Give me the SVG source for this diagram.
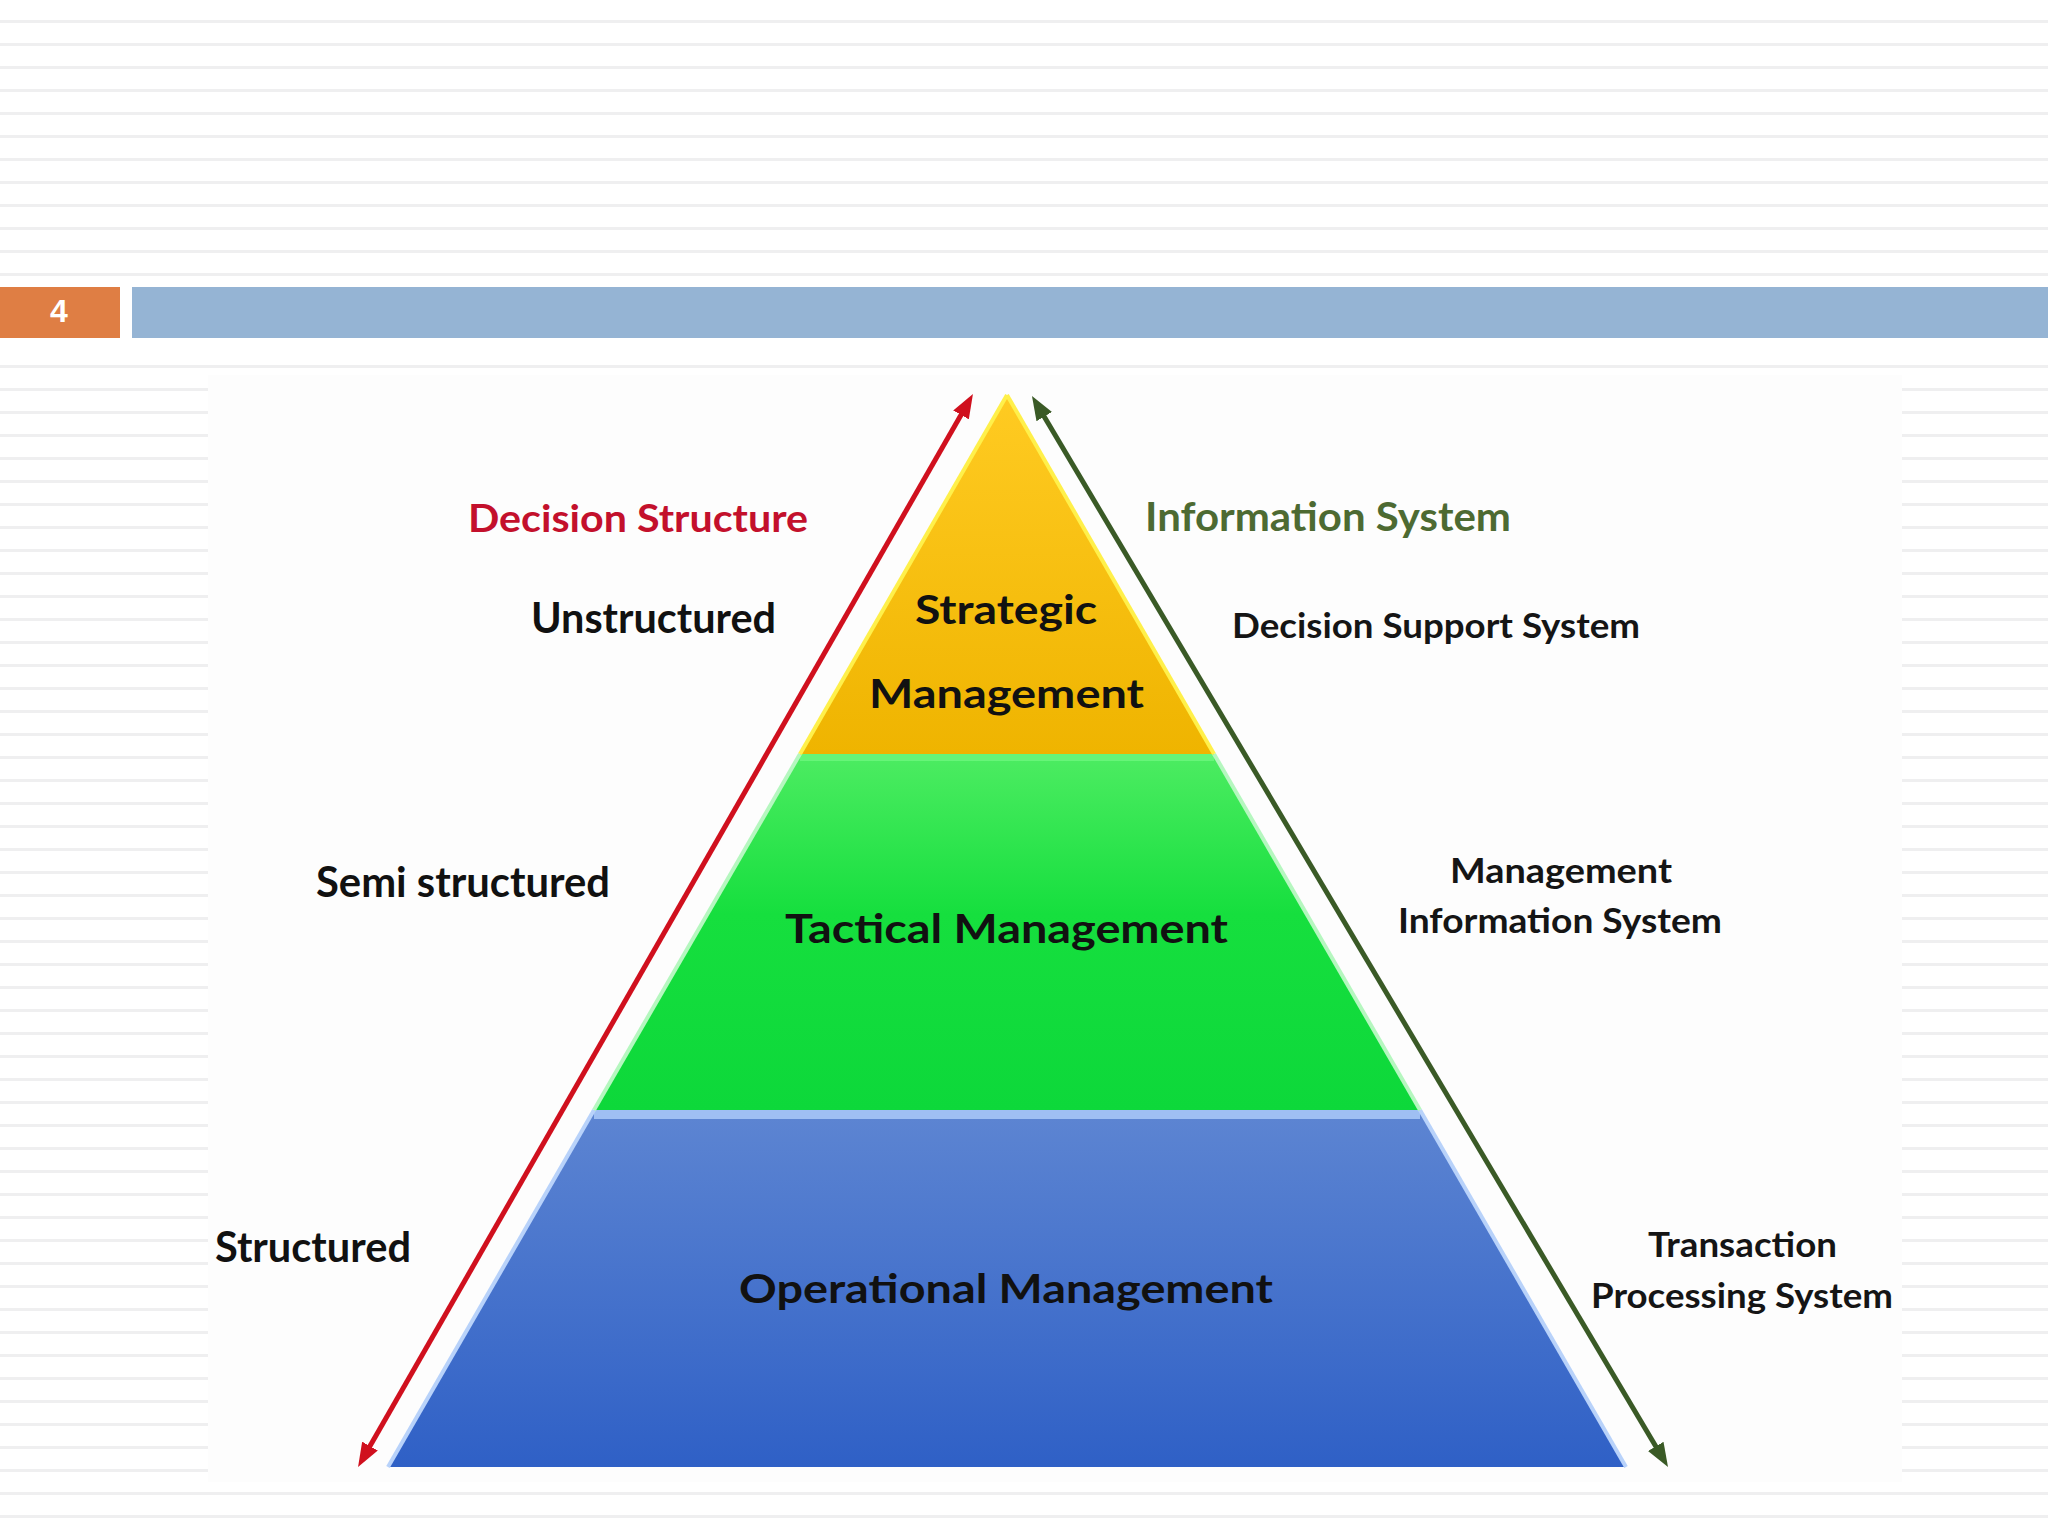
<svg xmlns="http://www.w3.org/2000/svg" width="2048" height="1536" viewBox="0 0 2048 1536">
<style>
.t{font-family:Lato,"Open Sans","Liberation Sans",sans-serif;font-weight:bold;fill:#111}
.lvl{font-size:41px}
.side{font-size:42px}
.sys{font-size:35px;fill:#151515}
</style>
<defs>
<pattern id="stripes" x="0" y="0" width="23" height="23" patternUnits="userSpaceOnUse">
<rect x="0" y="0" width="23" height="23" fill="#ffffff"/>
<rect x="0" y="20" width="23" height="5" fill="#efeff0"/>
</pattern>
<linearGradient id="gStr" x1="0" y1="0" x2="0" y2="1">
<stop offset="0" stop-color="#FFCB22"/>
<stop offset="1" stop-color="#EFB400"/>
</linearGradient>
<linearGradient id="gTac" x1="0" y1="0" x2="0" y2="1">
<stop offset="0" stop-color="#4DEC62"/>
<stop offset="0.45" stop-color="#16DF3E"/>
<stop offset="1" stop-color="#0DD83A"/>
</linearGradient>
<linearGradient id="gOp" x1="0" y1="0" x2="0" y2="1">
<stop offset="0" stop-color="#5D85D2"/>
<stop offset="1" stop-color="#2F60C6"/>
</linearGradient>
<marker id="arRed" viewBox="0 0 24 18" markerWidth="24" markerHeight="18" refX="4" refY="9" orient="auto-start-reverse" markerUnits="userSpaceOnUse">
<path d="M0,0 L24,9 L0,18 z" fill="#D0101E"/>
</marker>
<marker id="arGreen" viewBox="0 0 24 18" markerWidth="24" markerHeight="18" refX="4" refY="9" orient="auto-start-reverse" markerUnits="userSpaceOnUse">
<path d="M0,0 L24,9 L0,18 z" fill="#3A5A26"/>
</marker>
</defs>

<!-- background -->
<rect x="0" y="0" width="2048" height="1536" fill="url(#stripes)"/>
<rect x="0" y="279" width="2048" height="85" fill="#ffffff"/>
<rect x="208" y="375" width="1694" height="1107" fill="#fdfdfd"/>

<!-- header bar -->
<g id="slide-number">
<rect x="0" y="287" width="120" height="51" fill="#DF7E44"/>
<text x="59" y="322" text-anchor="middle" font-family="'Liberation Sans',Arial,sans-serif" font-weight="bold" font-size="32" fill="#ffffff">4</text>
</g>
<rect id="title-bar" x="132" y="287" width="1916" height="51" fill="#95B4D4"/>

<!-- pyramid -->
<g id="operational">
<polygon points="594,1110 1420,1110 1626,1467 388,1467" fill="url(#gOp)"/>
<rect x="594" y="1110" width="826" height="9" fill="#A6C5F6" opacity="0.9"/>
<line x1="594" y1="1110" x2="388" y2="1467" stroke="#B8D2FA" stroke-width="4"/>
<line x1="1420" y1="1110" x2="1626" y2="1467" stroke="#B8D2FA" stroke-width="4"/>
<text class="t lvl" x="739" y="1303" textLength="534" lengthAdjust="spacingAndGlyphs">Operational Management</text>
</g>
<g id="tactical">
<polygon points="800,754 1214,754 1420,1110 594,1110" fill="url(#gTac)"/>
<rect x="800" y="754" width="414" height="7" fill="#66F578"/>
<line x1="800" y1="754" x2="594" y2="1110" stroke="#B5F7BF" stroke-width="4"/>
<line x1="1214" y1="754" x2="1420" y2="1110" stroke="#B5F7BF" stroke-width="4"/>
<text class="t lvl" x="785" y="943" textLength="443" lengthAdjust="spacingAndGlyphs">Tactical Management</text>
</g>
<g id="strategic">
<polygon points="1007,395 1214,754 800,754" fill="url(#gStr)"/>
<line x1="1007" y1="395" x2="800" y2="754" stroke="#FFF04A" stroke-width="4"/>
<line x1="1007" y1="395" x2="1214" y2="754" stroke="#FFF04A" stroke-width="4"/>
<text class="t lvl" x="915" y="624" textLength="182" lengthAdjust="spacingAndGlyphs">Strategic</text>
<text class="t lvl" x="869" y="708" textLength="275" lengthAdjust="spacingAndGlyphs">Management</text>
</g>

<!-- connectors -->
<g id="connectors" fill="none" stroke-width="5">
<line id="decision-arrow" x1="368" y1="1449.6" x2="963" y2="411.4" stroke="#D0101E" marker-start="url(#arRed)" marker-end="url(#arRed)"/>
<line id="information-arrow" x1="1042.2" y1="413.2" x2="1657.8" y2="1449.8" stroke="#3A5A26" marker-start="url(#arGreen)" marker-end="url(#arGreen)"/>
</g>

<!-- left labels -->
<g id="decision-structure">
<text class="t" x="468" y="532" font-size="38" style="fill:#C3102C" textLength="340" lengthAdjust="spacingAndGlyphs">Decision Structure</text>
</g>
<g id="unstructured">
<text class="t side" x="531" y="633" textLength="245" lengthAdjust="spacingAndGlyphs">Unstructured</text>
</g>
<g id="semi-structured">
<text class="t side" x="316" y="897" textLength="294" lengthAdjust="spacingAndGlyphs">Semi structured</text>
</g>
<g id="structured">
<text class="t side" x="215" y="1262" textLength="196" lengthAdjust="spacingAndGlyphs">Structured</text>
</g>

<!-- right labels -->
<g id="information-system">
<text class="t" x="1145" y="531" font-size="41" style="fill:#4D6A32" textLength="366" lengthAdjust="spacingAndGlyphs">Information System</text>
</g>
<g id="dss">
<text class="t sys" x="1232" y="638" textLength="408" lengthAdjust="spacingAndGlyphs">Decision Support System</text>
</g>
<g id="mis">
<text class="t sys" x="1450" y="883" textLength="222" lengthAdjust="spacingAndGlyphs">Management</text>
<text class="t sys" x="1398" y="933" textLength="324" lengthAdjust="spacingAndGlyphs">Information System</text>
</g>
<g id="tps">
<text class="t sys" x="1648" y="1257" textLength="189" lengthAdjust="spacingAndGlyphs">Transaction</text>
<text class="t sys" x="1591" y="1308" textLength="302" lengthAdjust="spacingAndGlyphs">Processing System</text>
</g>
</svg>
